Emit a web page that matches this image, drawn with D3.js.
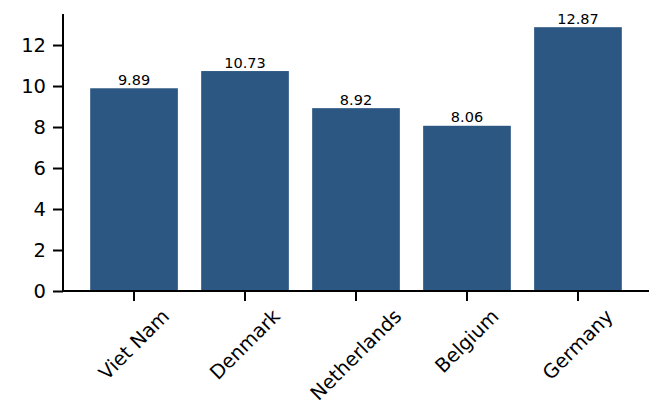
<!DOCTYPE html>
<html><head><meta charset="utf-8">
<script src="https://cdn.jsdelivr.net/npm/d3@7"></script>
<style>body{margin:0;background:#fff}svg{display:block}text{font-family:"DejaVu Sans",sans-serif;fill:#000}</style>
</head><body><svg id="c" width="654" height="405"></svg>
<script>
const categories = ["Viet Nam", "Denmark", "Netherlands", "Belgium", "Germany"];
const values = [9.89, 10.73, 8.92, 8.06, 12.87];
const valueLabels = ["9.89", "10.73", "8.92", "8.06", "12.87"];
const yTicks = [0, 2, 4, 6, 8, 10, 12];

(function () {
const svg = d3.select("#c");
const mLeft = 63, mRight = 649, mTop = 14, mBottom = 291;
const barW = 0.79;
const x = d3.scaleLinear().domain([-0.64, categories.length - 1 + 0.64]).range([mLeft, mRight]);
const y = d3.scaleLinear().domain([0, d3.max(values) * 1.05]).range([mBottom, mTop]);
const color = "#2b5782";

svg.selectAll("rect.bar").data(values).join("rect")
  .attr("class", "bar")
  .attr("x", (d, i) => x(i - barW / 2))
  .attr("width", (d, i) => x(i + barW / 2) - x(i - barW / 2))
  .attr("y", d => y(d))
  .attr("height", d => mBottom - y(d))
  .attr("fill", color);

svg.selectAll("text.vl").data(values).join("text")
  .attr("class", "vl")
  .attr("x", (d, i) => x(i))
  .attr("y", d => y(d) - 3.5)
  .attr("text-anchor", "middle")
  .style("font-size", "14.5px")
  .text((d, i) => valueLabels[i]);

// Y axis
const yAxis = d3.axisLeft(y).tickValues(yTicks).tickFormat(d3.format("d")).tickSize(10).tickPadding(7);
const gy = svg.append("g").attr("transform", `translate(${mLeft},0)`).call(yAxis);
gy.select(".domain").remove();
gy.selectAll(".tick line").attr("stroke", "#000").attr("stroke-width", 2);
gy.selectAll(".tick text").style("font-size", "19.5px").attr("fill", "#000");
svg.append("line").attr("x1", mLeft).attr("x2", mLeft).attr("y1", mTop).attr("y2", mBottom + 1)
  .attr("stroke", "#000").attr("stroke-width", 2);

// X axis
const gx = svg.append("g");
gx.selectAll("line.xt").data(categories).join("line")
  .attr("class", "xt")
  .attr("x1", (d, i) => x(i)).attr("x2", (d, i) => x(i))
  .attr("y1", mBottom).attr("y2", mBottom + 10)
  .attr("stroke", "#000").attr("stroke-width", 2);
svg.append("line").attr("x1", mLeft - 1).attr("x2", mRight).attr("y1", mBottom).attr("y2", mBottom)
  .attr("stroke", "#000").attr("stroke-width", 2);

const labelTop = mBottom + 15;
const fs = 19.5;
gx.selectAll("text.xl").data(categories).join("text")
  .attr("class", "xl")
  .style("font-size", fs + "px")
  .attr("text-anchor", "middle")
  .attr("dominant-baseline", "central")
  .text(d => d)
  .each(function (d, i) {
    const w = this.getComputedTextLength();
    const h = fs * 1.0;
    const cy = labelTop + (w + h) / (2 * Math.SQRT2);
    const cx = x(i);
    d3.select(this).attr("x", cx).attr("y", cy).attr("transform", `rotate(-45,${cx},${cy})`);
  });
})();
</script></body></html>
